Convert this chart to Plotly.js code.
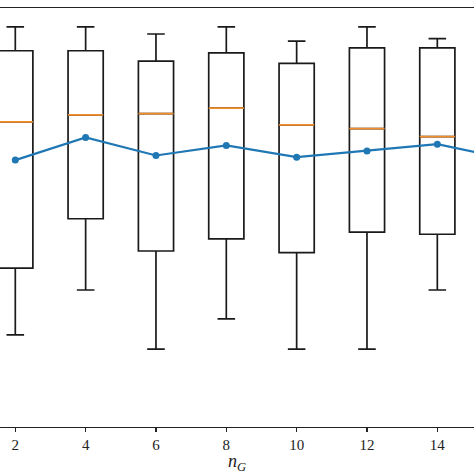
<!DOCTYPE html>
<html>
<head>
<meta charset="utf-8">
<script src="https://cdn.plot.ly/plotly-3.0.1.min.js"></script>
<style>html,body{margin:0;padding:0;background:#fff;}#chart{width:474px;height:474px;}</style>
</head>
<body>
<div id="chart"></div>
<script>
// Data (relative scale 0..1)
const nG        = [2, 4, 6, 8, 10, 12, 14];
const upperFence = [0.955, 0.955, 0.938, 0.955, 0.921, 0.955, 0.927];
const q3Values   = [0.898, 0.898, 0.873, 0.893, 0.868, 0.905, 0.905];
const medians    = [0.728, 0.745, 0.748, 0.761, 0.721, 0.712, 0.693];
const q1Values   = [0.379, 0.497, 0.420, 0.449, 0.416, 0.465, 0.460];
const lowerFence = [0.220, 0.327, 0.186, 0.258, 0.186, 0.186, 0.327];
const meanX      = [2, 4, 6, 8, 10, 12, 14, 16];
const meanValues = [0.637, 0.691, 0.648, 0.672, 0.644, 0.659, 0.675, 0.640];
const tickVals   = [2, 4, 6, 8, 10, 12, 14];
const tickText   = ['2', '4', '6', '8', '10', '12', '14'];

const boxWidth = 1;
const medX = [], medY = [];
nG.forEach((x, i) => {
  medX.push(x - boxWidth / 2, x + boxWidth / 2, null);
  medY.push(medians[i], medians[i], null);
});

const traces = [
  {
    type: 'box',
    x: nG,
    q1: q1Values,
    median: medians,
    q3: q3Values,
    lowerfence: lowerFence,
    upperfence: upperFence,
    width: boxWidth,
    whiskerwidth: 0.5,
    fillcolor: 'rgba(255,255,255,0)',
    line: {color: '#1a1a1a', width: 1.7},
    hoverinfo: 'skip',
    showlegend: false
  },
  {
    type: 'scatter',
    mode: 'lines',
    x: medX,
    y: medY,
    line: {color: '#f28e2b', width: 1.8},
    hoverinfo: 'skip',
    showlegend: false
  },
  {
    type: 'scatter',
    mode: 'lines+markers',
    x: meanX,
    y: meanValues,
    line: {color: '#1f77b4', width: 2.2},
    marker: {color: '#1f77b4', size: 7},
    hoverinfo: 'skip',
    showlegend: false
  }
];

const layout = {
  width: 474,
  height: 474,
  margin: {l: 0, r: 0, t: 8, b: 47, pad: 0},
  paper_bgcolor: '#ffffff',
  plot_bgcolor: '#ffffff',
  font: {family: '"Liberation Serif", "DejaVu Serif", serif', color: '#222', size: 15},
  xaxis: {
    range: [1.565, 15.043],
    tickmode: 'array',
    tickvals: tickVals,
    ticktext: tickText,
    ticks: 'outside',
    ticklen: 4,
    tickwidth: 1.2,
    tickcolor: '#222',
    showline: true,
    linecolor: '#222',
    linewidth: 1.4,
    mirror: true,
    showgrid: false,
    zeroline: false,
    tickfont: {family: '"Liberation Serif", serif', size: 15, color: '#222'},
    title: {text: '<i>n</i><sub><i>G</i></sub>', font: {family: '"Liberation Serif", serif', size: 18, color: '#222'}, standoff: 4}
  },
  yaxis: {
    range: [0, 1],
    showline: false,
    showticklabels: false,
    ticks: '',
    showgrid: false,
    zeroline: false
  }
};

Plotly.newPlot('chart', traces, layout, {staticPlot: true, displayModeBar: false});
</script>
</body>
</html>
